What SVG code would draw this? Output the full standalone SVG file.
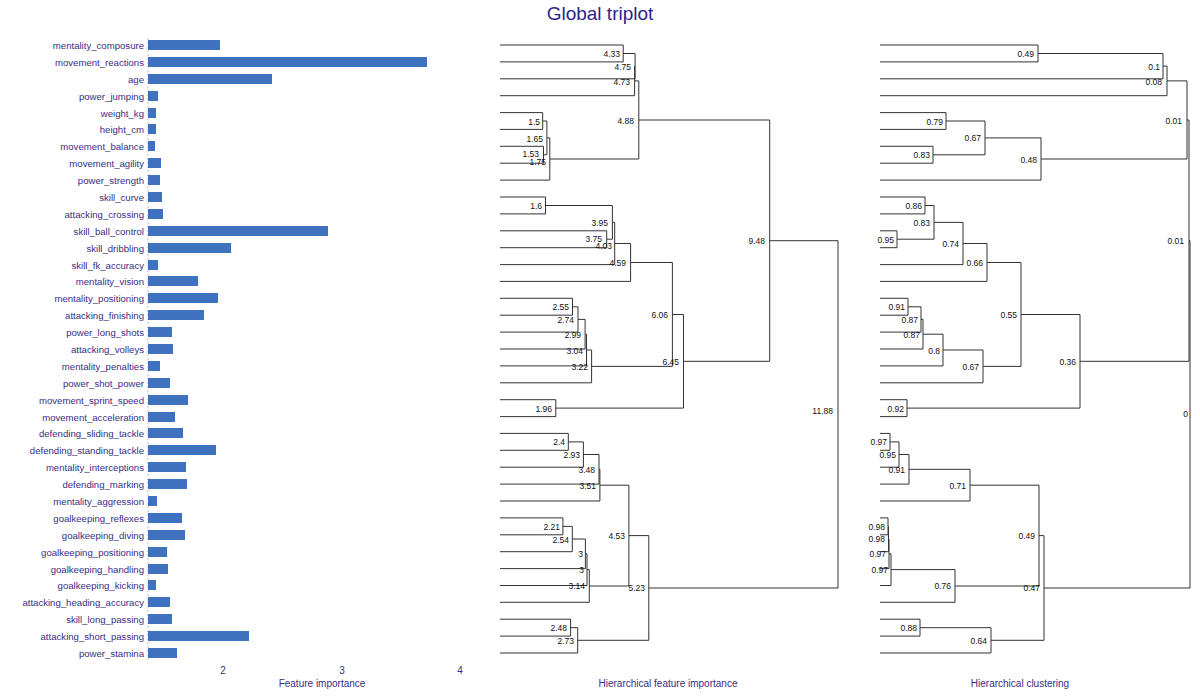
<svg xmlns="http://www.w3.org/2000/svg" width="1200" height="699" viewBox="0 0 1200 699">
<style>
text{font-family:"Liberation Sans",Arial,sans-serif}
.t{font-size:19px;fill:#2d1f8a;text-anchor:middle}
.f{font-size:9.6px;fill:#3a2d85;text-anchor:end}
.tk{font-size:10px;fill:#3a2d85;text-anchor:middle}
.bar{fill:#3f72be}
.l{fill:none;stroke:#333;stroke-width:1}
.n{font-size:8.5px;fill:#111;text-anchor:end}
</style>
<rect width="1200" height="699" fill="#fff"/>
<text class="t" x="600" y="20">Global triplot</text>
<g id="barchart">
<line x1="148" y1="38" x2="148" y2="660" stroke="#bbb" stroke-dasharray="2,2"/>
<g class="f">
<text x="144" y="49">mentality_composure</text>
<text x="144" y="66">movement_reactions</text>
<text x="144" y="83">age</text>
<text x="144" y="100">power_jumping</text>
<text x="144" y="117">weight_kg</text>
<text x="144" y="133">height_cm</text>
<text x="144" y="150">movement_balance</text>
<text x="144" y="167">movement_agility</text>
<text x="144" y="184">power_strength</text>
<text x="144" y="201">skill_curve</text>
<text x="144" y="218">attacking_crossing</text>
<text x="144" y="235">skill_ball_control</text>
<text x="144" y="252">skill_dribbling</text>
<text x="144" y="269">skill_fk_accuracy</text>
<text x="144" y="285">mentality_vision</text>
<text x="144" y="302">mentality_positioning</text>
<text x="144" y="319">attacking_finishing</text>
<text x="144" y="336">power_long_shots</text>
<text x="144" y="353">attacking_volleys</text>
<text x="144" y="370">mentality_penalties</text>
<text x="144" y="387">power_shot_power</text>
<text x="144" y="404">movement_sprint_speed</text>
<text x="144" y="421">movement_acceleration</text>
<text x="144" y="437">defending_sliding_tackle</text>
<text x="144" y="454">defending_standing_tackle</text>
<text x="144" y="471">mentality_interceptions</text>
<text x="144" y="488">defending_marking</text>
<text x="144" y="505">mentality_aggression</text>
<text x="144" y="522">goalkeeping_reflexes</text>
<text x="144" y="539">goalkeeping_diving</text>
<text x="144" y="556">goalkeeping_positioning</text>
<text x="144" y="573">goalkeeping_handling</text>
<text x="144" y="589">goalkeeping_kicking</text>
<text x="144" y="606">attacking_heading_accuracy</text>
<text x="144" y="623">skill_long_passing</text>
<text x="144" y="640">attacking_short_passing</text>
<text x="144" y="657">power_stamina</text>
</g>
<g class="bar">
<rect x="148" y="40" width="72" height="10"/>
<rect x="148" y="57" width="279" height="10"/>
<rect x="148" y="74" width="124" height="10"/>
<rect x="148" y="91" width="10" height="10"/>
<rect x="148" y="108" width="8" height="10"/>
<rect x="148" y="124" width="8" height="10"/>
<rect x="148" y="141" width="7" height="10"/>
<rect x="148" y="158" width="13" height="10"/>
<rect x="148" y="175" width="12" height="10"/>
<rect x="148" y="192" width="14" height="10"/>
<rect x="148" y="209" width="15" height="10"/>
<rect x="148" y="226" width="180" height="10"/>
<rect x="148" y="243" width="83" height="10"/>
<rect x="148" y="260" width="10" height="10"/>
<rect x="148" y="276" width="50" height="10"/>
<rect x="148" y="293" width="70" height="10"/>
<rect x="148" y="310" width="56" height="10"/>
<rect x="148" y="327" width="24" height="10"/>
<rect x="148" y="344" width="25" height="10"/>
<rect x="148" y="361" width="12" height="10"/>
<rect x="148" y="378" width="22" height="10"/>
<rect x="148" y="395" width="40" height="10"/>
<rect x="148" y="412" width="27" height="10"/>
<rect x="148" y="428" width="35" height="10"/>
<rect x="148" y="445" width="68" height="10"/>
<rect x="148" y="462" width="38" height="10"/>
<rect x="148" y="479" width="39" height="10"/>
<rect x="148" y="496" width="9" height="10"/>
<rect x="148" y="513" width="34" height="10"/>
<rect x="148" y="530" width="37" height="10"/>
<rect x="148" y="547" width="19" height="10"/>
<rect x="148" y="564" width="20" height="10"/>
<rect x="148" y="580" width="8" height="10"/>
<rect x="148" y="597" width="22" height="10"/>
<rect x="148" y="614" width="24" height="10"/>
<rect x="148" y="631" width="101" height="10"/>
<rect x="148" y="648" width="29" height="10"/>
</g>
<text class="tk" x="223" y="674">2</text>
<text class="tk" x="342" y="674">3</text>
<text class="tk" x="460" y="674">4</text>
<text class="tk" x="322" y="687">Feature importance</text>
</g>
<g id="connectors">
<g id="hfi-lines" class="l">
<path d="M500 45H623.2V61.9H500"/>
<path d="M623.2 53.5H635.1V78.8H500"/>
<path d="M635.1 66.1H634.6V95.7H500"/>
<path d="M500 112.6H542.7V129.4H500"/>
<path d="M500 146.3H543.5V163.2H500"/>
<path d="M542.7 121H546.9V154.8H543.5"/>
<path d="M546.9 137.9H549.8V180.1H500"/>
<path d="M634.6 80.9H638.8V159H549.8"/>
<path d="M500 197H545.5V213.9H500"/>
<path d="M500 230.8H606.7V247.7H500"/>
<path d="M545.5 205.5H612.4V239.2H606.7"/>
<path d="M612.4 222.4H614.7V264.6H500"/>
<path d="M614.7 243.5H630.6V281.4H500"/>
<path d="M500 298.3H572.5V315.2H500"/>
<path d="M572.5 306.8H578V332.1H500"/>
<path d="M578 319.4H585.1V349H500"/>
<path d="M585.1 334.2H586.5V365.9H500"/>
<path d="M586.5 350H591.6V382.8H500"/>
<path d="M630.6 262.5H672.4V366.4H591.6"/>
<path d="M500 399.7H555.8V416.6H500"/>
<path d="M672.4 314.5H683.5V408.1H555.8"/>
<path d="M638.8 120H769.7V361.3H683.5"/>
<path d="M500 433.4H568.3V450.3H500"/>
<path d="M568.3 441.9H583.4V467.2H500"/>
<path d="M583.4 454.5H599V484.1H500"/>
<path d="M599 469.3H599.9V501H500"/>
<path d="M500 517.9H562.9V534.8H500"/>
<path d="M562.9 526.4H572.3V551.7H500"/>
<path d="M572.3 539H585.4V568.6H500"/>
<path d="M585.4 553.8H587V585.5H500"/>
<path d="M587 569.6H589.3V602.3H500"/>
<path d="M599.9 485.2H628.9V586H589.3"/>
<path d="M500 619.2H570.6V636.1H500"/>
<path d="M570.6 627.7H577.7V653H500"/>
<path d="M628.9 535.6H648.8V640.3H577.7"/>
<path d="M769.7 240.7H838V588H648.8"/>
</g>
<g id="hc-lines" class="l">
<path d="M880 45H1038V61.9H880"/>
<path d="M1038 53.5H1163V78.8H880"/>
<path d="M1163 66.1H1167V95.7H880"/>
<path d="M880 112.6H946V129.4H880"/>
<path d="M880 146.3H933V163.2H880"/>
<path d="M946 121H985V154.8H933"/>
<path d="M985 137.9H1041V180.1H880"/>
<path d="M1167 80.9H1187V159H1041"/>
<path d="M880 197H925V213.9H880"/>
<path d="M880 230.8H897V247.7H880"/>
<path d="M925 205.5H934V239.2H897"/>
<path d="M934 222.4H963V264.6H880"/>
<path d="M963 243.5H987V281.4H880"/>
<path d="M880 298.3H908V315.2H880"/>
<path d="M908 306.8H921V332.1H880"/>
<path d="M921 319.4H923V349H880"/>
<path d="M923 334.2H943V365.9H880"/>
<path d="M943 350H983V382.8H880"/>
<path d="M987 262.5H1021V366.4H983"/>
<path d="M880 399.7H907V416.6H880"/>
<path d="M1021 314.5H1080V408.1H907"/>
<path d="M1187 120H1189V361.3H1080"/>
<path d="M880 433.4H890V450.3H880"/>
<path d="M890 441.9H899V467.2H880"/>
<path d="M899 454.5H909V484.1H880"/>
<path d="M909 469.3H970V501H880"/>
<path d="M880 517.9H888V534.8H880"/>
<path d="M888 526.4H888.5V551.7H880"/>
<path d="M888.5 539H889V568.6H880"/>
<path d="M889 553.8H891V585.5H880"/>
<path d="M891 569.6H955V602.3H880"/>
<path d="M970 485.2H1039V586H955"/>
<path d="M880 619.2H920V636.1H880"/>
<path d="M920 627.7H991V653H880"/>
<path d="M1039 535.6H1044V640.3H991"/>
<path d="M1189 240.7H1190V588H1044"/>
</g>
</g>
<g id="hfi-labels" class="n">
<text x="620" y="57">4.33</text>
<text x="631" y="70">4.75</text>
<text x="630" y="85">4.73</text>
<text x="634" y="124">4.88</text>
<text x="540" y="125">1.5</text>
<text x="543" y="142">1.65</text>
<text x="539" y="157">1.53</text>
<text x="546" y="165">1.75</text>
<text x="542" y="209">1.6</text>
<text x="608" y="226">3.95</text>
<text x="602" y="242">3.75</text>
<text x="612" y="249">4.03</text>
<text x="626" y="266">4.59</text>
<text x="569" y="310">2.55</text>
<text x="574" y="323">2.74</text>
<text x="581" y="338">2.99</text>
<text x="583" y="354">3.04</text>
<text x="588" y="370">3.22</text>
<text x="668" y="318">6.06</text>
<text x="552" y="412">1.96</text>
<text x="679" y="365">6.45</text>
<text x="765" y="244">9.48</text>
<text x="565" y="445">2.4</text>
<text x="580" y="458">2.93</text>
<text x="595" y="473">3.48</text>
<text x="596" y="489">3.51</text>
<text x="560" y="530">2.21</text>
<text x="569" y="543">2.54</text>
<text x="583" y="557">3</text>
<text x="584" y="573">3</text>
<text x="585" y="589">3.14</text>
<text x="625" y="539">4.53</text>
<text x="567" y="631">2.48</text>
<text x="574" y="644">2.73</text>
<text x="645" y="591">5.23</text>
<text x="833" y="414">11.88</text>
</g>
<g id="hc-labels" class="n">
<text x="1034" y="57">0.49</text>
<text x="1160" y="70">0.1</text>
<text x="1162" y="85">0.08</text>
<text x="943" y="125">0.79</text>
<text x="930" y="158">0.83</text>
<text x="981" y="141">0.67</text>
<text x="1037" y="163">0.48</text>
<text x="1182" y="124">0.01</text>
<text x="922" y="209">0.86</text>
<text x="894" y="243">0.95</text>
<text x="930" y="226">0.83</text>
<text x="959" y="247">0.74</text>
<text x="983" y="266">0.66</text>
<text x="905" y="310">0.91</text>
<text x="918" y="323">0.87</text>
<text x="920" y="338">0.87</text>
<text x="940" y="354">0.8</text>
<text x="979" y="370">0.67</text>
<text x="1017" y="318">0.55</text>
<text x="904" y="412">0.92</text>
<text x="1076" y="365">0.36</text>
<text x="1184" y="244">0.01</text>
<text x="887" y="445">0.97</text>
<text x="896" y="458">0.95</text>
<text x="905" y="473">0.91</text>
<text x="966" y="489">0.71</text>
<text x="885" y="530">0.98</text>
<text x="885" y="542">0.98</text>
<text x="886" y="557">0.97</text>
<text x="888" y="573">0.97</text>
<text x="951" y="589">0.76</text>
<text x="1035" y="539">0.49</text>
<text x="917" y="631">0.88</text>
<text x="987" y="644">0.64</text>
<text x="1040" y="591">0.47</text>
<text x="1188" y="417">0</text>
</g>
<text class="tk" x="668" y="687">Hierarchical feature importance</text>
<text class="tk" x="1020" y="687">Hierarchical clustering</text>
</svg>
